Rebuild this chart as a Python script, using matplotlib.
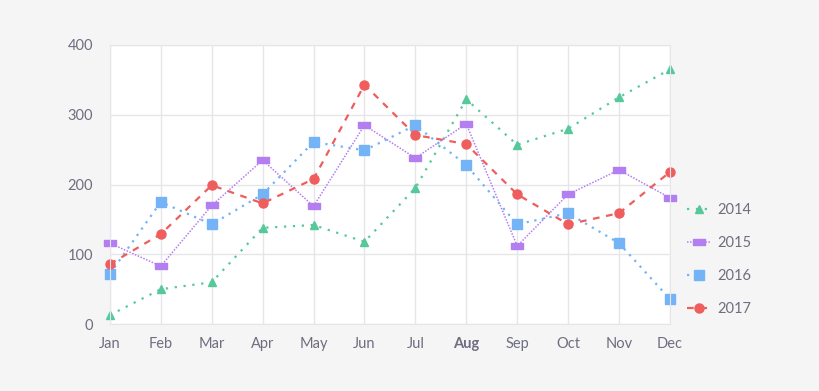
import matplotlib.pyplot as plt

plt.rcParams['font.family'] = ['Lato', 'DejaVu Sans']

months = ["Jan", "Feb", "Mar", "Apr", "May", "Jun", "Jul", "Aug", "Sep", "Oct", "Nov", "Dec"]
y2014 = [13, 50, 60, 138, 142, 118, 195, 322, 257, 280, 325, 365]
y2015 = [116, 83, 170, 235, 169, 285, 238, 287, 112, 186, 221, 181]
y2016 = [72, 175, 143, 186, 261, 249, 285, 228, 143, 159, 116, 36]
y2017 = [86, 129, 199, 173, 208, 343, 271, 258, 186, 143, 159, 218]
yticks = [0, 100, 200, 300, 400]

text_col = "#6e6e80"
bg = "#f5f5f5"

# flat rectangle marker used for 2015
flat_rect = [(-1, -0.5), (1, -0.5), (1, 0.5), (-1, 0.5), (-1, -0.5)]

fig = plt.figure(figsize=(8.2, 3.91), dpi=100, facecolor=bg)
ax = fig.add_axes([0.134, 0.171, 0.683, 0.714])
ax.set_facecolor("white")

x = list(range(len(months)))
ax.plot(x, y2014, color="#55c99b", ls=(0, (1, 3)), lw=1.6, marker="^", ms=6,
        label="2014", clip_on=False)
ax.plot(x, y2015, color="#b27ef0", ls=(0, (1, 1)), lw=1.1, marker=flat_rect, ms=8,
        label="2015", clip_on=False)
ax.plot(x, y2016, color="#74b3f6", ls=(0, (1, 2.5)), lw=1.6, marker="s", ms=6.5,
        label="2016", clip_on=False)
ax.plot(x, y2017, color="#ef5d5d", ls=(0, (3, 3)), lw=1.6, marker="o", ms=6.5,
        label="2017", clip_on=False)

ax.set_xlim(0, 11)
ax.set_ylim(0, 400)
ax.set_xticks(x)
ax.set_xticklabels(months)
ax.set_yticks(yticks)
ax.grid(True, color="#e6e6ea", lw=1)
ax.set_axisbelow(True)
for s in ax.spines.values():
    s.set_color("#e6e6ea")
ax.tick_params(length=0, colors=text_col, labelsize=10.5)
ax.tick_params(axis="x", pad=9)
ax.tick_params(axis="y", pad=12)
for lab in ax.get_xticklabels():
    if lab.get_text() == "Aug":
        lab.set_fontweight("bold")

fig.legend(loc="upper left", bbox_to_anchor=(0.822, 0.515), frameon=False,
           labelcolor=text_col, fontsize=10.5, handlelength=1.6,
           labelspacing=1.3, handletextpad=0.5)

fig.savefig("out.png", dpi=100, facecolor=bg)
